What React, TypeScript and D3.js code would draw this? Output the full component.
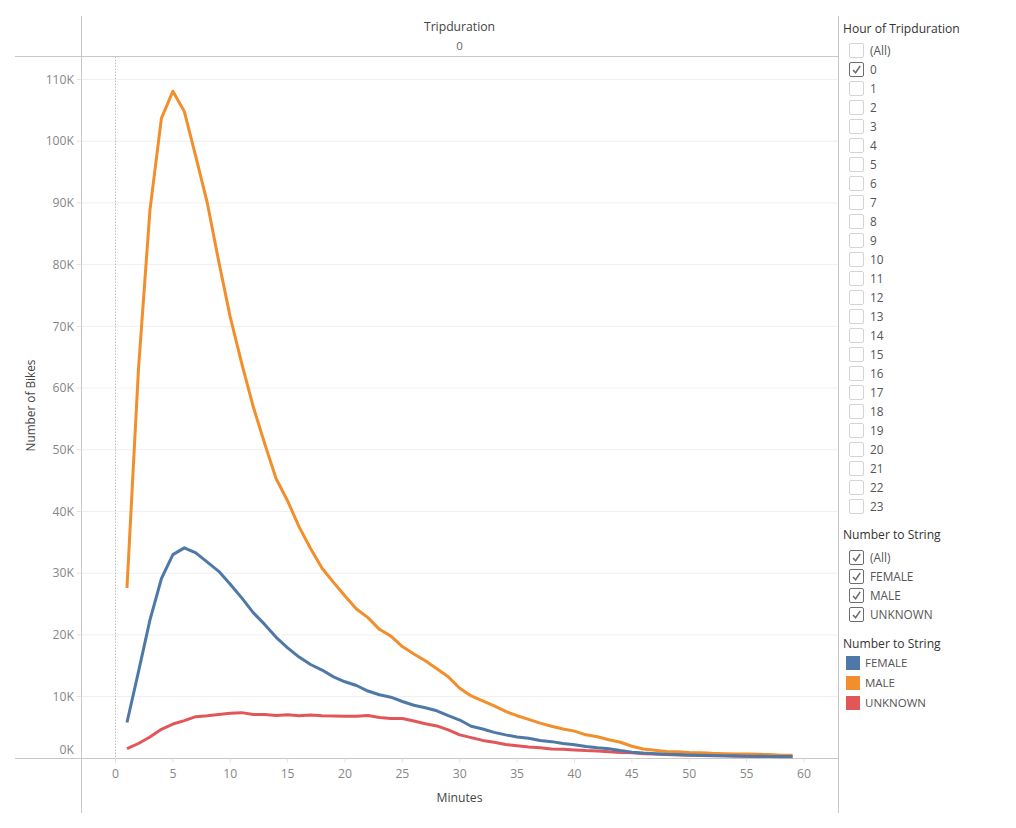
import { useEffect, useRef } from 'react'
import * as d3 from 'd3'

const MINUTES = d3.range(1, 60)

const FEMALE = [
  5.8, 14, 22.4, 29.1, 33, 34.1, 33.3, 31.8, 30.3, 28.2,
  26, 23.6, 21.7, 19.6, 17.9, 16.4, 15.2, 14.3, 13.2, 12.4,
  11.8, 10.9, 10.3, 9.9, 9.2, 8.6, 8.2, 7.7, 6.9, 6.2,
  5.2, 4.75, 4.2, 3.8, 3.45, 3.25, 2.9, 2.7, 2.4, 2.2,
  1.9, 1.7, 1.55, 1.25, 1, 0.85, 0.75, 0.65, 0.6, 0.55,
  0.5, 0.45, 0.4, 0.4, 0.35, 0.35, 0.3, 0.3, 0.3,
]
const MALE = [
  27.6, 63, 88.8, 103.7, 108.1, 104.8, 97.5, 90, 80.5, 71.5,
  64, 57, 51, 45.3, 41.7, 37.5, 34, 30.8, 28.5, 26.3,
  24.2, 22.8, 20.9, 19.8, 18.1, 16.9, 15.8, 14.5, 13.2, 11.35,
  10.1, 9.3, 8.5, 7.6, 6.9, 6.3, 5.7, 5.2, 4.75, 4.4,
  3.8, 3.5, 3, 2.6, 1.95, 1.5, 1.3, 1.1, 1.05, 0.95,
  0.9, 0.8, 0.75, 0.7, 0.7, 0.65, 0.6, 0.5, 0.5,
]
const UNKNOWN = [
  1.55, 2.4, 3.45, 4.7, 5.55, 6.1, 6.75, 6.9, 7.1, 7.3,
  7.4, 7.1, 7.1, 6.95, 7.05, 6.9, 7, 6.9, 6.85, 6.8,
  6.8, 6.95, 6.6, 6.45, 6.45, 6.05, 5.6, 5.25, 4.6, 3.8,
  3.35, 2.9, 2.6, 2.25, 2.05, 1.85, 1.7, 1.5, 1.45, 1.35,
  1.25, 1.2, 1.05, 0.95, 0.9, 0.75, 0.7, 0.6, 0.55, 0.5,
  0.45, 0.4, 0.4, 0.35, 0.35, 0.3, 0.3, 0.25, 0.25,
]

const Y_TICKS = d3.range(0, 111, 10)
const X_TICKS = d3.range(0, 61, 5)
const HOURS = ['(All)', ...d3.range(0, 24).map(String)]
const CHECKED_HOURS = ['0']
const GENDERS = ['FEMALE', 'MALE', 'UNKNOWN']
const GENDER_COLORS = ['#4e79a7', '#f28e2b', '#e15759']

const FONT = '"Open Sans", Lato, sans-serif'
const W = 1016
const H = 828

export default function App() {
  const svgRef = useRef<SVGSVGElement>(null)

  useEffect(() => {
    if (!svgRef.current) return
    const svg = d3.select(svgRef.current)
    svg.selectAll('*').remove()
    svg.style('font-family', FONT)

    const x = d3.scaleLinear().domain([0, 60]).range([115.5, 804])
    const y = d3.scaleLinear().domain([0, 110]).range([758.3, 79.5])

    // Grid
    svg.append('g').selectAll('line')
      .data(Y_TICKS.filter(d => d > 0))
      .enter().append('line')
      .attr('x1', 81.5).attr('x2', 838)
      .attr('y1', d => y(d)).attr('y2', d => y(d))
      .attr('stroke', '#efefef').attr('stroke-width', 1)

    // Zero line
    svg.append('line')
      .attr('x1', x(0)).attr('x2', x(0)).attr('y1', 56.5).attr('y2', 758)
      .attr('stroke', '#bdbdbd').attr('stroke-width', 1).attr('stroke-dasharray', '1.5,1.5')

    // Frame
    const frame = '#c8c8c8'
    const rule = (x1: number, y1: number, x2: number, y2: number) =>
      svg.append('line').attr('x1', x1).attr('y1', y1).attr('x2', x2).attr('y2', y2)
        .attr('stroke', frame).attr('stroke-width', 1)
    rule(81.5, 16, 81.5, 813)
    rule(838.5, 16, 838.5, 813)
    rule(15, 56.5, 838.5, 56.5)
    rule(15, 758.5, 838.5, 758.5)

    // Tick marks
    svg.append('g').selectAll('line')
      .data(Y_TICKS.filter(d => d > 0))
      .enter().append('line')
      .attr('x1', 76.5).attr('x2', 81.5)
      .attr('y1', d => y(d)).attr('y2', d => y(d))
      .attr('stroke', '#e2e2e2')
    svg.append('g').selectAll('line')
      .data(X_TICKS)
      .enter().append('line')
      .attr('x1', d => x(d)).attr('x2', d => x(d))
      .attr('y1', 758.5).attr('y2', 762.5)
      .attr('stroke', '#e2e2e2')

    // Tick labels
    svg.append('g').selectAll('text')
      .data(Y_TICKS)
      .enter().append('text')
      .attr('x', 74).attr('y', d => (d === 0 ? y(0) - 9 : y(d)))
      .attr('dy', '0.35em')
      .attr('text-anchor', 'end').attr('font-size', 12.2).attr('fill', '#868686')
      .text(d => `${d}K`)
    svg.append('g').selectAll('text')
      .data(X_TICKS)
      .enter().append('text')
      .attr('x', d => x(d)).attr('y', 774)
      .attr('dy', '0.35em')
      .attr('text-anchor', 'middle').attr('font-size', 12.2).attr('fill', '#868686')
      .text(d => d)

    // Axis titles
    svg.append('text')
      .attr('transform', 'translate(31,405.5) rotate(-90)')
      .attr('text-anchor', 'middle').attr('dy', '0.35em')
      .attr('font-size', 11.8).attr('fill', '#444')
      .text('Number of Bikes')
    svg.append('text')
      .attr('x', 459.5).attr('y', 798).attr('dy', '0.35em')
      .attr('text-anchor', 'middle').attr('font-size', 12.2).attr('fill', '#444')
      .text('Minutes')
    svg.append('text')
      .attr('x', 459.5).attr('y', 27).attr('dy', '0.35em')
      .attr('text-anchor', 'middle').attr('font-size', 12.2).attr('fill', '#444')
      .text('Tripduration')
    svg.append('text')
      .attr('x', 459.5).attr('y', 46).attr('dy', '0.35em')
      .attr('text-anchor', 'middle').attr('font-size', 11.5).attr('fill', '#666')
      .text('0')

    // Lines, drawn so that FEMALE ends up on top as in the original
    const line = d3.line<number>()
      .x((_, i) => x(MINUTES[i]))
      .y(d => y(d))
    ;[
      { values: UNKNOWN, color: GENDER_COLORS[2] },
      { values: MALE, color: GENDER_COLORS[1] },
      { values: FEMALE, color: GENDER_COLORS[0] },
    ].forEach(s => {
      svg.append('path')
        .attr('d', line(s.values))
        .attr('fill', 'none')
        .attr('stroke', s.color)
        .attr('stroke-width', 3)
        .attr('stroke-linejoin', 'round')
    })

    // Filter cards
    const title = (label: string, yPos: number) =>
      svg.append('text')
        .attr('x', 843).attr('y', yPos).attr('dy', '0.35em')
        .attr('font-size', 12.1).attr('font-weight', 500).attr('fill', '#333')
        .text(label)

    const checklist = (items: string[], checked: string[], yStart: number) => {
      const row = svg.append('g').selectAll('g')
        .data(items)
        .enter().append('g')
        .attr('transform', (_, i) => `translate(0,${yStart + i * 19})`)
      row.append('rect')
        .attr('x', 849.5).attr('y', -7).attr('width', 14).attr('height', 14).attr('rx', 1.5)
        .attr('fill', '#fff')
        .attr('stroke', d => (checked.includes(d) ? '#6e6e6e' : '#d4d4d4'))
      row.filter(d => checked.includes(d)).append('path')
        .attr('d', 'M853 0.5 L855.6 3.2 L860.2 -3.6')
        .attr('fill', 'none').attr('stroke', '#6e6e6e').attr('stroke-width', 1.6)
      row.append('text')
        .attr('x', 870).attr('dy', '0.35em')
        .attr('font-size', 11.8).attr('fill', '#555')
        .text(d => d)
    }

    title('Hour of Tripduration', 29)
    checklist(HOURS, CHECKED_HOURS, 50.5)

    title('Number to String', 535)
    checklist(['(All)', ...GENDERS], ['(All)', ...GENDERS], 557.5)

    title('Number to String', 643.5)
    const legend = svg.append('g').selectAll('g')
      .data(GENDERS)
      .enter().append('g')
      .attr('transform', (_, i) => `translate(0,${663 + i * 20})`)
    legend.append('rect')
      .attr('x', 846).attr('y', -7).attr('width', 14).attr('height', 14)
      .attr('fill', (_, i) => GENDER_COLORS[i])
    legend.append('text')
      .attr('x', 865).attr('dy', '0.35em')
      .attr('font-size', 11.5).attr('fill', '#555')
      .text(d => d)
  }, [])

  return (
    <svg
      ref={svgRef}
      width={W}
      height={H}
      style={{ position: 'absolute', left: 0, top: 0, display: 'block', background: '#fff' }}
    />
  )
}
